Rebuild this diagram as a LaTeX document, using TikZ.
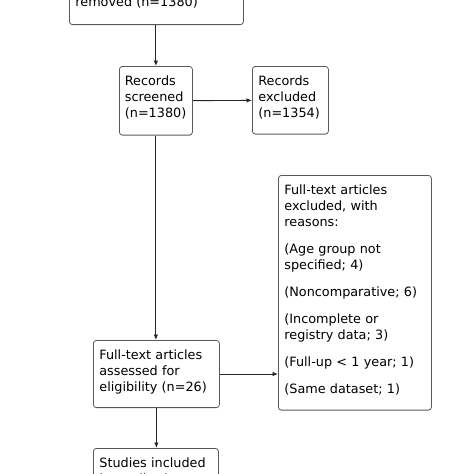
\documentclass[tikz,border=0pt]{standalone}
\usepackage{fontspec}
\setmainfont{DejaVu Sans}
\usepackage{tikz}
\usetikzlibrary{arrows.meta,positioning}

\begin{document}
\begin{tikzpicture}[x=1pt, y=-1pt, line width=0.8pt,
  box/.style = {draw=black!65, rounded corners=3pt, align=left, inner xsep=6pt, inner ysep=9pt,
    font=\fontsize{12.8}{16}\selectfont, text=black},
  arr/.style = {draw=black!85, line width=0.9pt, -{Latex[length=5.5pt,width=4.5pt]}}]
\useasboundingbox (0,0) rectangle (474,474);
\clip (0,0) rectangle (474,474);
\node[box, anchor=south west, text width=162pt, text height=30pt, text depth=9pt] (dedup) at (69,25) {removed (n=1380)};
\node[box, anchor=north west, text width=62pt, inner xsep=5.5pt, text depth=41pt] (screened) at (119,66) {Records\\screened\\(n=1380)};
\node[box, anchor=north west, text width=64pt, text depth=40pt] (excluded) at (252,66) {Records\\excluded\\(n=1354)};
\node[box, anchor=north west, text width=114pt, text depth=39.5pt] (assessed) at (93,340) {Full-text articles\\assessed for\\eligibility (n=26)};
\node[box, anchor=north west, text width=141pt, text depth=207pt] (reasons) at (278,175) {Full-text articles\\excluded, with\\reasons:\\[11pt](Age group not\\specified; 4)\\[11pt](Noncomparative; 6)\\[11pt](Incomplete or\\registry data; 3)\\[11pt](Full-up < 1 year; 1)\\[11pt](Same dataset; 1)};
\node[box, anchor=north west, text width=113pt] (included) at (93,448) {Studies included\\in qualitative};
\draw[arr] (screened.north |- dedup.south) -- (screened.north);
\draw[arr] (screened) -- (excluded);
\draw[arr] (screened.south) -- (screened.south |- assessed.north);
\draw[arr] (assessed) -- (assessed -| reasons.west);
\draw[arr] (assessed.south) -- (assessed.south |- included.north);
\end{tikzpicture}
\end{document}
